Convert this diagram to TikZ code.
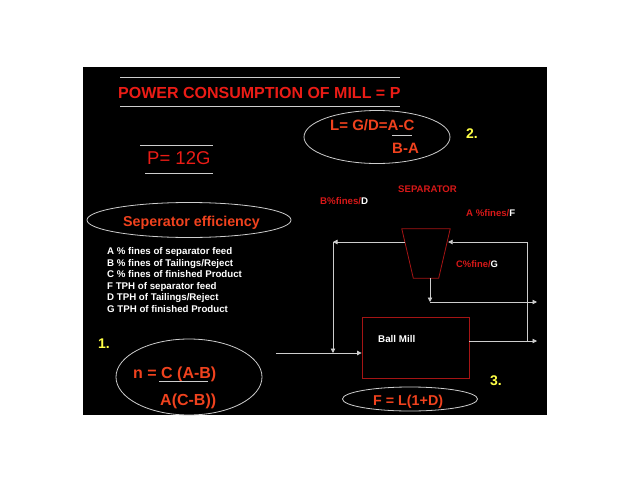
\documentclass[tikz,border=0pt]{standalone}
\usepackage{fontspec}
\setmainfont{Liberation Sans}
\usetikzlibrary{shapes.geometric,arrows.meta}
\definecolor{titlered}{RGB}{235,28,22}
\definecolor{eqred}{RGB}{240,66,30}
\definecolor{labelred}{RGB}{215,24,24}
\definecolor{rulegray}{RGB}{205,205,205}
\definecolor{boxred}{RGB}{165,20,20}
\definecolor{numyellow}{RGB}{255,255,70}
\newcommand{\fsz}[1]{\fontsize{#1}{#1}\selectfont}
\tikzset{
  lbl/.style={anchor=base west, inner sep=0pt},
  flow/.style={draw=rulegray, line width=0.8pt, -{Triangle[length=4.5pt,width=4.5pt]}},
  plain/.style={draw=rulegray, line width=0.8pt},
  oval/.style={ellipse, draw=rulegray, line width=0.8pt, inner sep=0pt},
}
\begin{document}
\begin{tikzpicture}[x=1pt,y=-1pt]
\useasboundingbox (0,0) rectangle (638,493);
\fill[white] (0,0) rectangle (638,493);
\fill[black] (83,67) rectangle (547,415);

\node[lbl, text=titlered, font=\bfseries\fsz{16}] (title) at (118,98) {POWER CONSUMPTION OF MILL = P};
\draw[plain] (120,77) -- (400,77);
\draw[plain] (120,106) -- (400,106);

\node[lbl, text=titlered, font=\fsz{18.5}] (power) at (147,164) {P= 12G};
\draw[plain] (140,145) -- (213,145);
\draw[plain] (145,173) -- (213,173);

\node[oval, minimum width=146pt, minimum height=53pt] (lring) at (377,137) {};
\node[lbl, text=eqred, font=\bfseries\fsz{15}] (ltop) at (330,130) {L= G/D=A-C};
\draw[plain] (392,135) -- (412,135);
\node[lbl, text=eqred, font=\bfseries\fsz{15}] (lbot) at (392,153) {B-A};
\node[lbl, text=numyellow, font=\bfseries\fsz{14}] (two) at (466,138) {2.};

\node[lbl, text=labelred, font=\bfseries\fsz{9.6}] (septitle) at (398,192) {SEPARATOR};
\node[lbl, text=labelred, font=\bfseries\fsz{9.7}] (bfines) at (320,204.5) {B\%fines/\textcolor{white}{D}};
\node[lbl, text=labelred, font=\bfseries\fsz{9.6}] (afines) at (466,216.5) {A \%fines/\textcolor{white}{F}};
\node[lbl, text=labelred, font=\bfseries\fsz{9.4}] (cfines) at (456,267) {C\%fine/\textcolor{white}{G}};

\node[oval, minimum width=204pt, minimum height=35pt] (effring) at (189,220) {};
\node[lbl, text=eqred, font=\bfseries\fsz{14.3}] (eff) at (123,226) {Seperator efficiency};

\node[lbl, text=white, font=\bfseries\fsz{9.7}] (defa) at (107,254.5) {A \% fines of separator feed};
\node[lbl, text=white, font=\bfseries\fsz{9.7}] (defb) at (107,266) {B \% fines of Tailings/Reject};
\node[lbl, text=white, font=\bfseries\fsz{9.7}] (defc) at (107,277.5) {C \% fines of finished Product};
\node[lbl, text=white, font=\bfseries\fsz{9.7}] (deff) at (107,289) {F TPH of separator feed};
\node[lbl, text=white, font=\bfseries\fsz{9.7}] (defd) at (107,300.5) {D TPH of Tailings/Reject};
\node[lbl, text=white, font=\bfseries\fsz{9.7}] (defg) at (107,312) {G TPH of finished Product};

\node[lbl, text=numyellow, font=\bfseries\fsz{14}] (one) at (98,348) {1.};
\node[oval, minimum width=146pt, minimum height=76pt] (nring) at (189,377) {};
\node[lbl, text=eqred, font=\bfseries\fsz{16}] (ntop) at (133,378) {n = C (A-B)};
\draw[plain] (159,381) -- (208,381);
\node[lbl, text=eqred, font=\bfseries\fsz{16}] (nbot) at (160,405) {A(C-B))};

\node[minimum width=48pt, minimum height=49pt, inner sep=0pt] (sep) at (426,253.5) {};
\draw[boxred, line width=0.8pt] (sep.north west) -- (sep.north east) -- ([xshift=-11.5pt]sep.south east)
  -- ([xshift=11.5pt]sep.south west) -- cycle;
\node[draw=boxred, line width=0.8pt, minimum width=107pt, minimum height=61pt, inner sep=0pt] (mill) at (415.5,347.5) {};
\node[lbl, text=white, font=\bfseries\fsz{9.8}] (milltxt) at (378,342) {Ball Mill};

\coordinate (tl) at (333,242);
\coordinate (jn) at (333,353);
\coordinate (feed) at (276,353);
\coordinate (tr) at (527,242);
\coordinate (prod) at (537,341);
\coordinate (fk) at (430,302);
\coordinate (fines) at (537,302);

\draw[flow] ([xshift=3pt]tl -| sep.west) -- (tl);
\draw[flow] (tl) -- (jn);
\draw[flow] (feed) -- (feed -| mill.west);
\draw[flow] (mill.east |- prod) -- (prod);
\draw[plain] (tr |- prod) -- (tr);
\draw[flow] (tr) -- ([xshift=-2pt]tr -| sep.east);
\draw[flow] (fk |- sep.south) -- (fk);
\draw[flow] (fk) -- (fines);

\node[lbl, text=numyellow, font=\bfseries\fsz{14}] (three) at (490,385) {3.};
\node[oval, minimum width=135pt, minimum height=24pt] (fring) at (410,399) {};
\node[lbl, text=eqred, font=\bfseries\fsz{14.3}] (feq) at (373,405) {F = L(1+D)};
\end{tikzpicture}
\end{document}
